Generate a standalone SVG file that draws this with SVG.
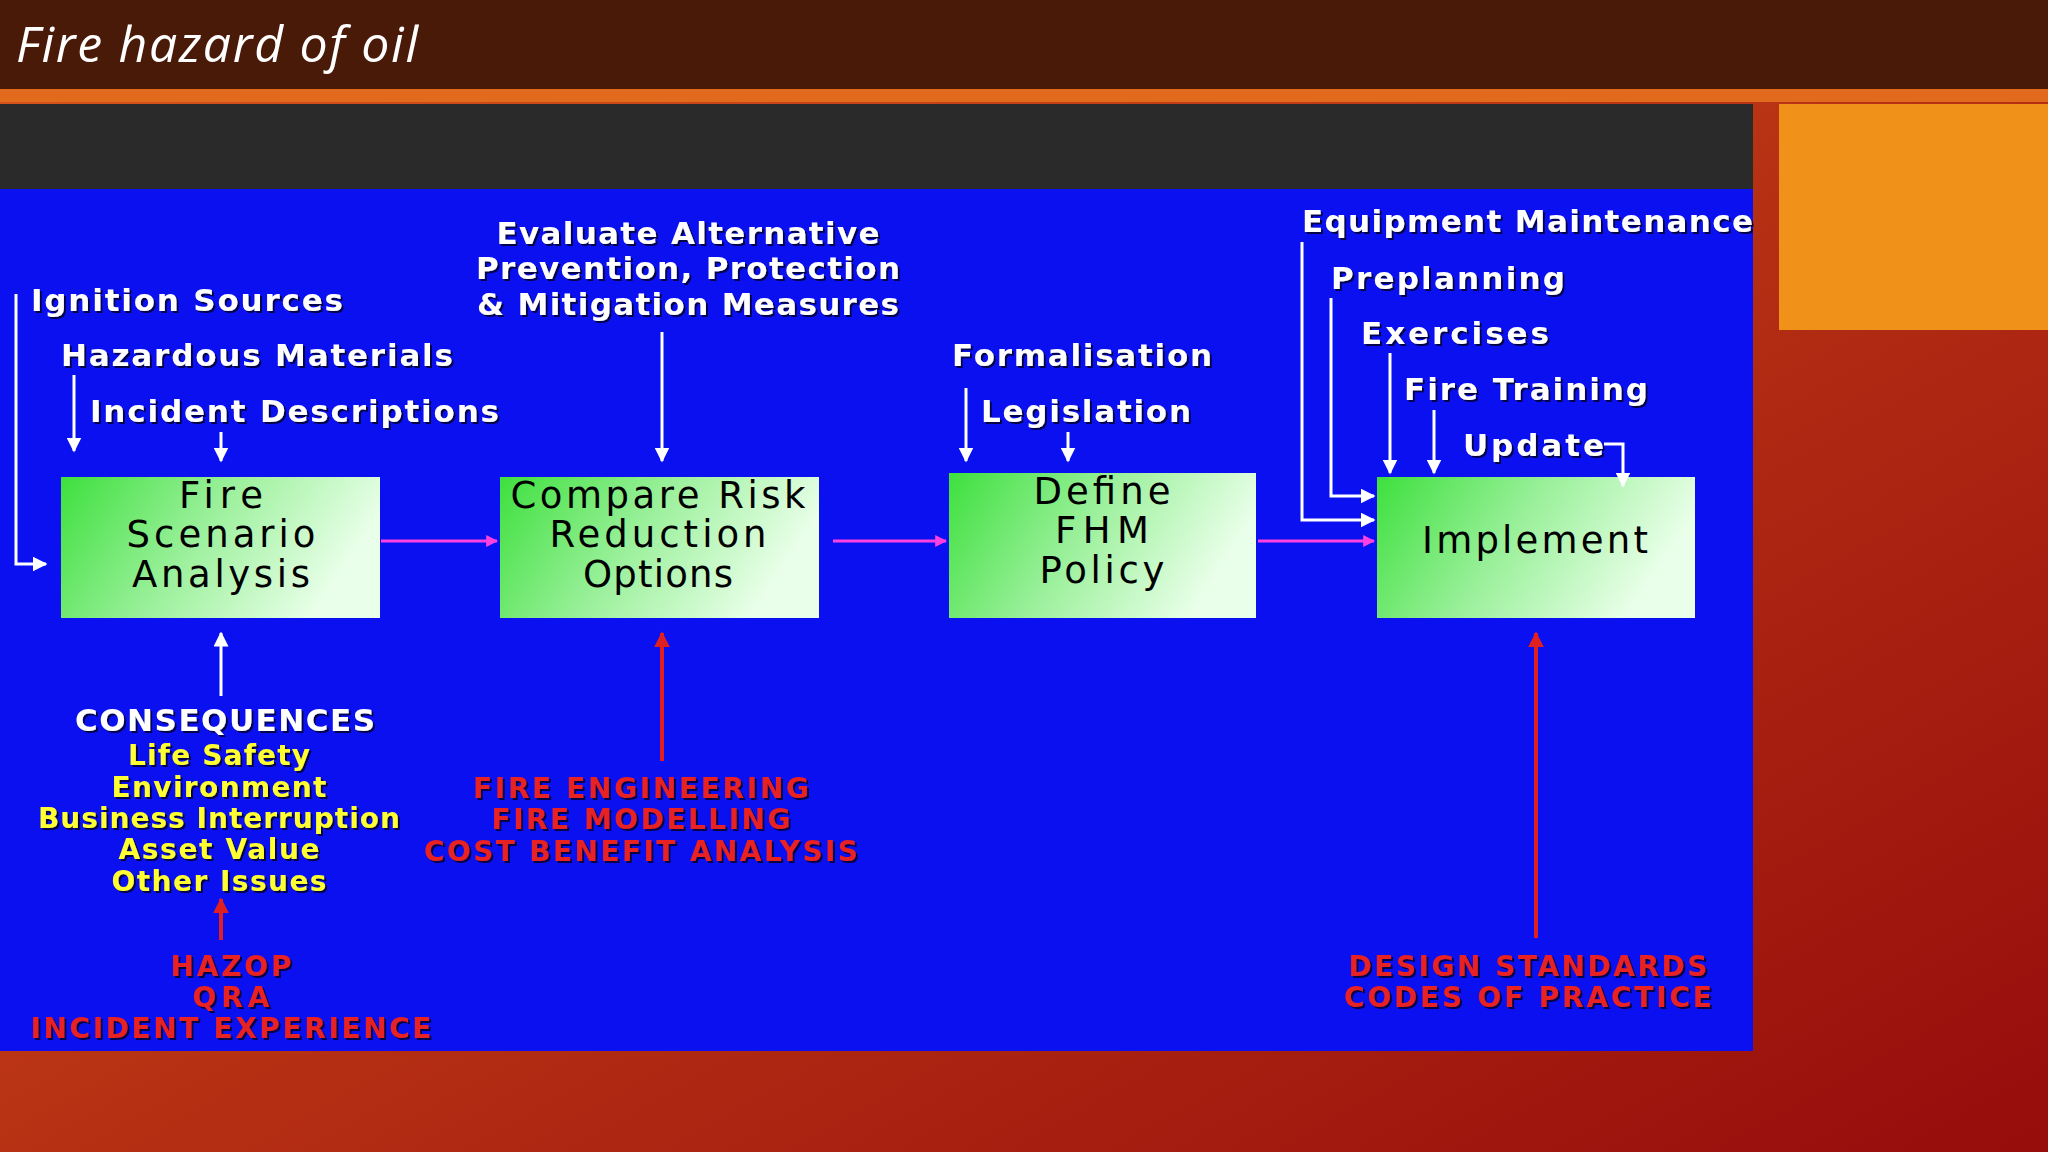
<svg xmlns="http://www.w3.org/2000/svg" width="2048" height="1152" viewBox="0 0 2048 1152">
<defs>
<linearGradient id="bg" x1="0" y1="0" x2="1" y2="1"><stop offset="0" stop-color="#d8561c"/><stop offset="1" stop-color="#960c0c"/></linearGradient>
<linearGradient id="box" x1="0" y1="0" x2="1" y2="0.3"><stop offset="0" stop-color="#3ee03e"/><stop offset="0.5" stop-color="#9af09a"/><stop offset="1" stop-color="#eaffea"/></linearGradient>
<marker id="aw" viewBox="0 0 10 10" refX="9" refY="5" markerWidth="5" markerHeight="5" orient="auto"><path d="M0,0L10,5L0,10z" fill="#fff"/></marker>
<marker id="am" viewBox="0 0 10 10" refX="9" refY="5" markerWidth="4" markerHeight="4" orient="auto"><path d="M0,0L10,5L0,10z" fill="#ff40e0"/></marker>
<marker id="ar" viewBox="0 0 10 10" refX="9" refY="5" markerWidth="4" markerHeight="4" orient="auto"><path d="M0,0L10,5L0,10z" fill="#e02020"/></marker>
<filter id="sh"><feDropShadow dx="2" dy="2" stdDeviation="0.5" flood-color="#000" flood-opacity="0.7"/></filter>
</defs>
<style>
.b{fill:url(#box)}
.bt{font-family:"DejaVu Sans",sans-serif;font-size:37px;fill:#000;text-anchor:middle}
.w{font-family:"DejaVu Sans",sans-serif;font-weight:bold;font-size:31px;fill:#fff;filter:url(#sh)}
.y{font-family:"DejaVu Sans",sans-serif;font-weight:bold;font-size:28px;fill:#ffff30;text-anchor:middle;filter:url(#sh)}
.r{font-family:"DejaVu Sans",sans-serif;font-weight:bold;font-size:28px;fill:#e82020;text-anchor:middle;filter:url(#sh)}
.c{text-anchor:middle}
.lw{stroke:#fff;stroke-width:3;fill:none;marker-end:url(#aw)}
.lm{stroke:#ff40e0;stroke-width:3;fill:none;marker-end:url(#am)}
.lr{stroke:#e02020;stroke-width:4;fill:none;marker-end:url(#ar)}
</style>
<rect width="2048" height="1152" fill="url(#bg)"/>
<rect width="2048" height="89" fill="#4a1a08"/>
<rect y="89" width="2048" height="13" fill="#e26a1c"/>
<rect x="1779" y="104" width="269" height="226" fill="#f0921a"/>
<text x="16" y="62" font-family="Open Sans,'Liberation Sans',sans-serif" font-style="italic" font-size="50" fill="#fff" textLength="402">Fire hazard of oil</text>
<rect x="0" y="104" width="1753" height="86" fill="#2a2a2a"/>
<rect x="0" y="189" width="1753" height="862" fill="#0a10f0"/>

<g id="n1"><rect class="b" x="61" y="477" width="319" height="141"/>
<text class="bt" x="221" y="508" textLength="84">Fire</text><text class="bt" x="221" y="547" textLength="189">Scenario</text><text class="bt" x="221" y="587" textLength="178">Analysis</text></g>
<g id="n2"><rect class="b" x="500" y="477" width="319" height="141"/>
<text class="bt" x="658" y="508" textLength="295">Compare Risk</text><text class="bt" x="658" y="547" textLength="217">Reduction</text><text class="bt" x="658" y="587" textLength="150">Options</text></g>
<g id="n3"><rect class="b" x="949" y="473" width="307" height="145"/>
<text class="bt" x="1102" y="504" textLength="137">Define</text><text class="bt" x="1102" y="543" textLength="94">FHM</text><text class="bt" x="1102" y="583" textLength="125">Policy</text></g>
<g id="n4"><rect class="b" x="1377" y="477" width="318" height="141"/>
<text class="bt" x="1535" y="553" textLength="226">Implement</text></g>

<g id="labels">
<text class="w" x="31" y="311" textLength="312">Ignition Sources</text>
<text class="w" x="61" y="366" textLength="392">Hazardous Materials</text>
<text class="w" x="90" y="422" textLength="409">Incident Descriptions</text>
<text class="w c" x="688" y="244" textLength="383">Evaluate Alternative</text>
<text class="w c" x="688" y="279" textLength="424">Prevention, Protection</text>
<text class="w c" x="688" y="315" textLength="422">&amp; Mitigation Measures</text>
<text class="w" x="952" y="366" textLength="260">Formalisation</text>
<text class="w" x="981" y="422" textLength="210">Legislation</text>
<text class="w" x="1302" y="232" textLength="451">Equipment Maintenance</text>
<text class="w" x="1331" y="289" textLength="234">Preplanning</text>
<text class="w" x="1361" y="344" textLength="188">Exercises</text>
<text class="w" x="1404" y="400" textLength="244">Fire Training</text>
<text class="w" x="1463" y="456" textLength="141">Update</text>
<text class="w c" x="225" y="731" font-size="28" textLength="300">CONSEQUENCES</text>
<text class="y" x="219" y="765" textLength="182">Life Safety</text>
<text class="y" x="219" y="797" textLength="215">Environment</text>
<text class="y" x="219" y="828" textLength="362">Business Interruption</text>
<text class="y" x="219" y="859" textLength="201">Asset Value</text>
<text class="y" x="219" y="891" textLength="215">Other Issues</text>
<text class="r" x="641" y="798" textLength="336">FIRE ENGINEERING</text>
<text class="r" x="641" y="829" textLength="299">FIRE MODELLING</text>
<text class="r" x="641" y="861" textLength="434">COST BENEFIT ANALYSIS</text>
<text class="r" x="231" y="976" textLength="121">HAZOP</text>
<text class="r" x="231" y="1007" textLength="77">QRA</text>
<text class="r" x="231" y="1038" textLength="401">INCIDENT EXPERIENCE</text>
<text class="r" x="1528" y="976" textLength="359">DESIGN STANDARDS</text>
<text class="r" x="1528" y="1007" textLength="368">CODES OF PRACTICE</text>
</g>

<g id="connectors">
<path class="lm" d="M381,541H497"/>
<path class="lm" d="M833,541H946"/>
<path class="lm" d="M1258,541H1374"/>
<path class="lw" d="M16,294V564H46"/>
<path class="lw" d="M74,375V451"/>
<path class="lw" d="M221,432V461"/>
<path class="lw" d="M662,332V461"/>
<path class="lw" d="M966,388V461"/>
<path class="lw" d="M1068,432V461"/>
<path class="lw" d="M1302,242V520H1374"/>
<path class="lw" d="M1331,298V496H1374"/>
<path class="lw" d="M1390,353V473"/>
<path class="lw" d="M1434,410V473"/>
<path class="lw" d="M1604,444H1623V486"/>
<path class="lw" d="M221,696V633"/>
<path class="lr" d="M662,761V633"/>
<path class="lr" d="M1536,938V633"/>
<path class="lr" d="M221,940V899"/>
</g>
</svg>
